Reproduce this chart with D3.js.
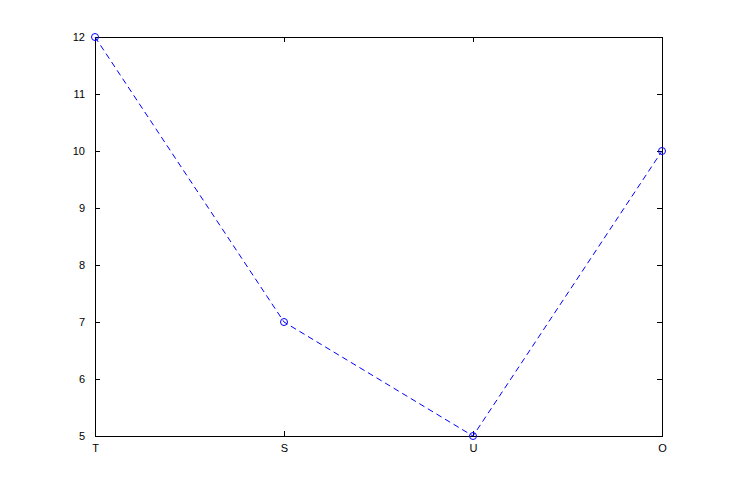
<!DOCTYPE html>
<html>
<head>
<meta charset="utf-8">
<script src="https://cdn.jsdelivr.net/npm/d3@7"></script>
<style>
  body { margin: 0; background: #fff; }
  .axis text { font-family: "Liberation Sans", Arial, sans-serif; font-size: 11px; fill: #000; }
  .axis path, .axis line { stroke: #000; }
</style>
</head>
<body>
<div id="chart"></div>
<script>
var categories = ["T", "S", "U", "O"];
var values = [12, 7, 5, 10];
var yTicks = [5, 6, 7, 8, 9, 10, 11, 12];

var W = 731, H = 490,
    margin = {top: 37, right: 69, bottom: 54, left: 95},
    width = W - margin.left - margin.right,
    height = H - margin.top - margin.bottom;

var svg = d3.select("#chart").append("svg").attr("width", W).attr("height", H),
    g = svg.append("g").attr("transform", "translate(" + margin.left + "," + margin.top + ")");

var x = d3.scalePoint().domain(categories).range([0, width]),
    y = d3.scaleLinear().domain([5, 12]).range([height, 0]);

// box
g.append("rect").attr("width", width).attr("height", height)
    .attr("fill", "none").attr("stroke", "#000").attr("shape-rendering", "crispEdges");

g.append("g").attr("class", "axis")
    .attr("transform", "translate(0," + height + ")")
    .call(d3.axisBottom(x).tickSizeInner(-5).tickSizeOuter(0).tickPadding(8))
    .call(function(s) { s.select(".domain").remove(); });

g.append("g").attr("class", "axis")
    .call(d3.axisTop(x).tickSizeInner(-5).tickSizeOuter(0).tickFormat(""))
    .call(function(s) { s.select(".domain").remove(); });

g.append("g").attr("class", "axis")
    .call(d3.axisLeft(y).tickValues(yTicks).tickFormat(d3.format("d")).tickSizeInner(-5).tickSizeOuter(0).tickPadding(10))
    .call(function(s) { s.select(".domain").remove(); });

g.append("g").attr("class", "axis")
    .attr("transform", "translate(" + width + ",0)")
    .call(d3.axisRight(y).tickValues(yTicks).tickSizeInner(-5).tickSizeOuter(0).tickFormat(""))
    .call(function(s) { s.select(".domain").remove(); });

g.selectAll(".axis line").attr("shape-rendering", "crispEdges");

var line = d3.line()
    .x(function(d, i) { return x(categories[i]); })
    .y(function(d) { return y(d); });

g.append("path")
    .datum(values)
    .attr("d", line)
    .attr("fill", "none")
    .attr("stroke", "#0000ff")
    .attr("stroke-width", 1)
    .attr("stroke-dasharray", "6,4");

g.selectAll(".pt")
    .data(values)
    .enter().append("circle")
    .attr("class", "pt")
    .attr("cx", function(d, i) { return x(categories[i]); })
    .attr("cy", function(d) { return y(d); })
    .attr("r", 3.5)
    .attr("fill", "none")
    .attr("stroke", "#0000ff");
</script>
</body>
</html>
